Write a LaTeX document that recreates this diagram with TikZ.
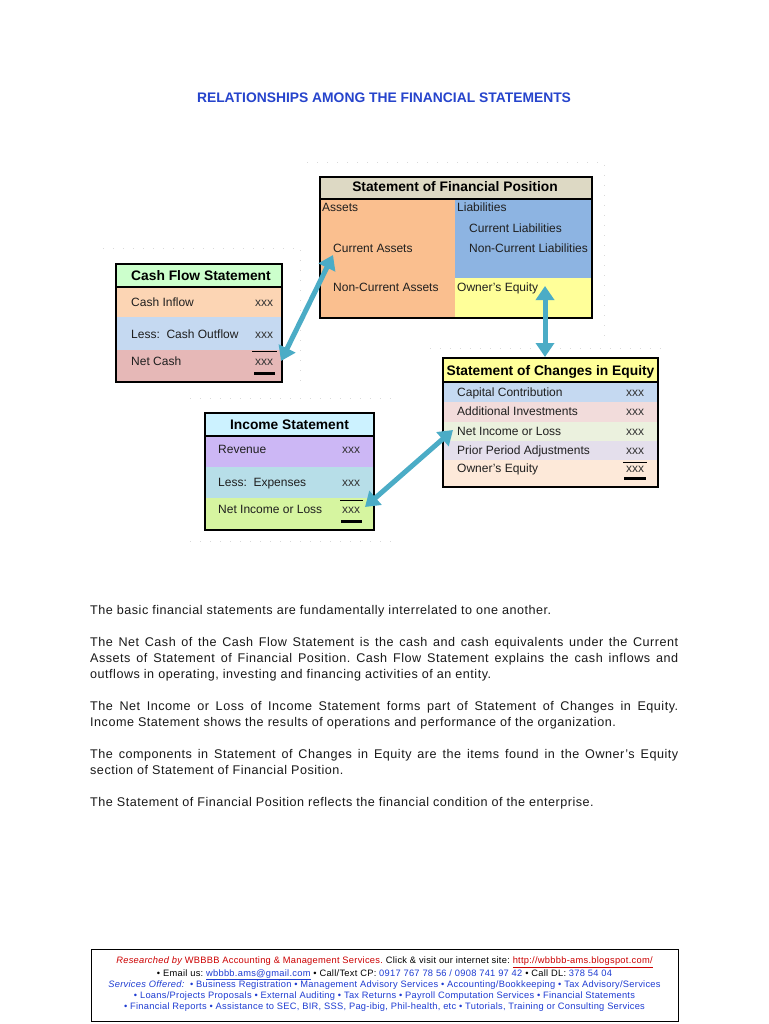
\documentclass[tikz,border=0pt]{standalone}
\usepackage{fontspec}
\setmainfont{Liberation Sans}
\newfontfamily\parafont[LetterSpace=4]{Liberation Sans}
\newfontfamily\footfont[LetterSpace=3]{Liberation Sans}
\usetikzlibrary{arrows.meta}
\definecolor{titleblue}{RGB}{38,68,204}
\definecolor{sfphdr}{RGB}{221,217,196}
\definecolor{sfpasset}{RGB}{250,191,143}
\definecolor{sfpliab}{RGB}{141,180,226}
\definecolor{sfpeq}{RGB}{255,255,153}
\definecolor{cfhdr}{RGB}{204,255,204}
\definecolor{cfin}{RGB}{252,213,180}
\definecolor{cfout}{RGB}{197,217,241}
\definecolor{cfnet}{RGB}{230,184,183}
\definecolor{ishdr}{RGB}{204,242,255}
\definecolor{isrev}{RGB}{204,183,245}
\definecolor{isexp}{RGB}{183,222,232}
\definecolor{isnet}{RGB}{214,245,160}
\definecolor{scehdr}{RGB}{255,255,153}
\definecolor{scecap}{RGB}{197,217,241}
\definecolor{sceadd}{RGB}{242,220,219}
\definecolor{scenet}{RGB}{235,241,222}
\definecolor{sceprior}{RGB}{228,223,236}
\definecolor{sceeq}{RGB}{253,233,217}
\definecolor{arrowc}{RGB}{75,172,198}
\definecolor{footred}{RGB}{204,0,0}
\definecolor{footblue}{RGB}{30,60,210}
\tolerance=10000
\hbadness=10000
\frenchspacing
\begin{document}
\begin{tikzpicture}[x=1pt,y=-1pt,
  boxline/.style={draw=black,line width=1.6pt},
  sepline/.style={draw=black,line width=1.6pt},
  hdrtext/.style={anchor=base,inner sep=0pt,font=\fontsize{13.8}{16}\selectfont\bfseries},
  itemtext/.style={anchor=base west,inner sep=0pt,font=\fontsize{12}{14}\selectfont,text=black!88},
  amttext/.style={anchor=base,inner sep=0pt,font=\fontsize{12}{14}\selectfont,text=black!80},
  thinrule/.style={draw=black,line width=1pt},
  thickrule/.style={draw=black,line width=3pt},
  relarrow/.style={draw=arrowc,line width=5pt,{Triangle[length=14pt,width=18pt]}-{Triangle[length=14pt,width=18pt]}},
  gridline/.style={draw=gray!30,line width=1pt,dash pattern=on 1pt off 9pt},
  paratext/.style={anchor=north west,inner sep=0pt,text width=588pt,align=justify,font=\parafont\fontsize{12.6}{16}\selectfont,text=black!90},
  foottext/.style={anchor=base,inner sep=0pt,font=\footfont\fontsize{9.3}{11}\selectfont}
]
\useasboundingbox (0,0) rectangle (768,1024);
\fill[white] (0,0) rectangle (768,1024);

% faint sheet grid lines
\draw[gridline] (307,163) -- (604,163);
\draw[gridline] (103,248) -- (300,248);
\draw[gridline] (430,348) -- (668,348);
\draw[gridline] (190,398) -- (392,398);
\draw[gridline] (190,541) -- (392,541);
\draw[gridline] (300,250) -- (300,390);
\draw[gridline] (604,165) -- (604,345);

% title
\node[anchor=base,inner sep=0pt,font=\fontsize{13.85}{16}\selectfont\bfseries,text=titleblue] (title) at (384,103) {RELATIONSHIPS AMONG THE FINANCIAL STATEMENTS};

% ---------- Statement of Financial Position ----------
\fill[sfphdr] (320,177) rectangle (592,199);
\fill[sfpasset] (320,199) rectangle (455,318);
\fill[sfpliab] (455,199) rectangle (592,278);
\fill[sfpeq] (455,278) rectangle (592,318);
\draw[sepline] (320,199) -- (592,199);
\draw[boxline] (320,177) rectangle (592,318);
\node[hdrtext] (sfph) at (455,192) {Statement of Financial Position};
\node[itemtext] (sfpa) at (322,212) {Assets};
\node[itemtext] (sfpca) at (333,252) {Current Assets};
\node[itemtext] (sfpnca) at (333,291) {Non-Current Assets};
\node[itemtext] (sfpl) at (457,212) {Liabilities};
\node[itemtext] (sfpcl) at (469,233) {Current Liabilities};
\node[itemtext] (sfpncl) at (469,252) {Non-Current Liabilities};
\node[itemtext] (sfpoe) at (457,291) {Owner's Equity};

% ---------- Cash Flow Statement ----------
\fill[cfhdr] (116,264) rectangle (282,287);
\fill[cfin] (116,287) rectangle (282,317);
\fill[cfout] (116,317) rectangle (282,350);
\fill[cfnet] (116,350) rectangle (282,382);
\draw[sepline] (116,287) -- (282,287);
\draw[boxline] (116,264) rectangle (282,382);
\node[hdrtext] (cfh) at (201,280.5) {Cash Flow Statement};
\node[itemtext] (cfi) at (131,306) {Cash Inflow};
\node[amttext] (cfix) at (264,306) {xxx};
\node[itemtext] (cfo) at (131,338) {Less:~~Cash Outflow};
\node[amttext] (cfox) at (264,338) {xxx};
\node[itemtext] (cfn) at (131,365) {Net Cash};
\node[amttext] (cfnx) at (264,365) {xxx};
\draw[thinrule] (252,351) -- (277,351);
\draw[thickrule] (254,373) -- (275,373);

% ---------- Income Statement ----------
\fill[ishdr] (205,413) rectangle (374,436);
\fill[isrev] (205,436) rectangle (374,467);
\fill[isexp] (205,467) rectangle (374,498);
\fill[isnet] (205,498) rectangle (374,530);
\draw[sepline] (205,436) -- (374,436);
\draw[boxline] (205,413) rectangle (374,530);
\node[hdrtext] (ish) at (289.5,429.5) {Income Statement};
\node[itemtext] (isr) at (218,453) {Revenue};
\node[amttext] (isrx) at (351,453) {xxx};
\node[itemtext] (ise) at (218,486) {Less:~~Expenses};
\node[amttext] (isex) at (351,486) {xxx};
\node[itemtext] (isn) at (218,513) {Net Income or Loss};
\node[amttext] (isnx) at (351,513) {xxx};
\draw[thinrule] (340,500) -- (363,500);
\draw[thickrule] (341,521) -- (362,521);

% ---------- Statement of Changes in Equity ----------
\fill[scehdr] (443,358) rectangle (658,382);
\fill[scecap] (443,382) rectangle (658,402);
\fill[sceadd] (443,402) rectangle (658,422);
\fill[scenet] (443,422) rectangle (658,441);
\fill[sceprior] (443,441) rectangle (658,460);
\fill[sceeq] (443,460) rectangle (658,487);
\draw[sepline] (443,382) -- (658,382);
\draw[boxline] (443,358) rectangle (658,487);
\node[hdrtext] (sceh) at (550.5,375) {Statement of Changes in Equity};
\node[itemtext] (scec) at (457,396) {Capital Contribution};
\node[amttext] (scecx) at (635,396) {xxx};
\node[itemtext] (scea) at (457,415) {Additional Investments};
\node[amttext] (sceax) at (635,415) {xxx};
\node[itemtext] (scen) at (457,435) {Net Income or Loss};
\node[amttext] (scenx) at (635,435) {xxx};
\node[itemtext] (scep) at (457,454) {Prior Period Adjustments};
\node[amttext] (scepx) at (635,454) {xxx};
\node[itemtext] (sceo) at (457,472) {Owner's Equity};
\node[amttext] (sceox) at (635,472) {xxx};
\draw[thinrule] (623,462) -- (647,462);
\draw[thickrule] (624,478) -- (646,478);

% ---------- connectors ----------
\coordinate (cfEnd) at (281,361);
\coordinate (caEnd) at (333,255);
\coordinate (oeEnd) at (545,286);
\coordinate (sceTop) at (545,357);
\coordinate (isEnd) at (365,507);
\coordinate (sceNi) at (453,430);
\draw[relarrow] (cfEnd) -- (caEnd);
\draw[relarrow] (oeEnd) -- (sceTop);
\draw[relarrow] (isEnd) -- (sceNi);

% ---------- explanatory text ----------
\node[paratext] (p1) at (90,605) {The basic financial statements are fundamentally interrelated to one another.};
\node[paratext] (p2) at (90,637) {The Net Cash of the Cash Flow Statement is the cash and cash equivalents under the Current\linebreak Assets of Statement of Financial Position. Cash Flow Statement explains the cash inflows and\linebreak outflows in operating, investing and financing activities of an entity.};
\node[paratext] (p3) at (90,701) {The Net Income or Loss of Income Statement forms part of Statement of Changes in Equity.\linebreak Income Statement shows the results of operations and performance of the organization.};
\node[paratext] (p4) at (90,749) {The components in Statement of Changes in Equity are the items found in the Owner’s Equity\linebreak section of Statement of Financial Position.};
\node[paratext] (p5) at (90,797) {The Statement of Financial Position reflects the financial condition of the enterprise.};

% ---------- footer ----------
\draw[draw=black,line width=1pt] (91,949) rectangle (678,1021);
\node[foottext] (f1) at (384.5,963.5) {\textcolor{footred}{\itshape Researched by} \textcolor{footred}{WBBBB Accounting \& Management Services.} Click \& visit our internet site: \textcolor{footred}{\underline{http://wbbbb-ams.blogspot.com/}}};
\node[foottext] (f2) at (384.5,976) {• Email us: \textcolor{footblue}{\underline{wbbbb.ams@gmail.com}} • Call/Text CP: \textcolor{footblue}{0917 767 78 56 / 0908 741 97 42} • Call DL: \textcolor{footblue}{378 54 04}};
\node[foottext,text=footblue] (f3) at (384.5,987) {{\itshape Services Offered:} \ • Business Registration • Management Advisory Services • Accounting/Bookkeeping • Tax Advisory/Services};
\node[foottext,text=footblue] (f4) at (384.5,998) {• Loans/Projects Proposals • External Auditing • Tax Returns • Payroll Computation Services • Financial Statements};
\node[foottext,text=footblue] (f5) at (384.5,1009) {• Financial Reports • Assistance to SEC, BIR, SSS, Pag-ibig, Phil-health, etc • Tutorials, Training or Consulting Services};
\end{tikzpicture}
\end{document}
